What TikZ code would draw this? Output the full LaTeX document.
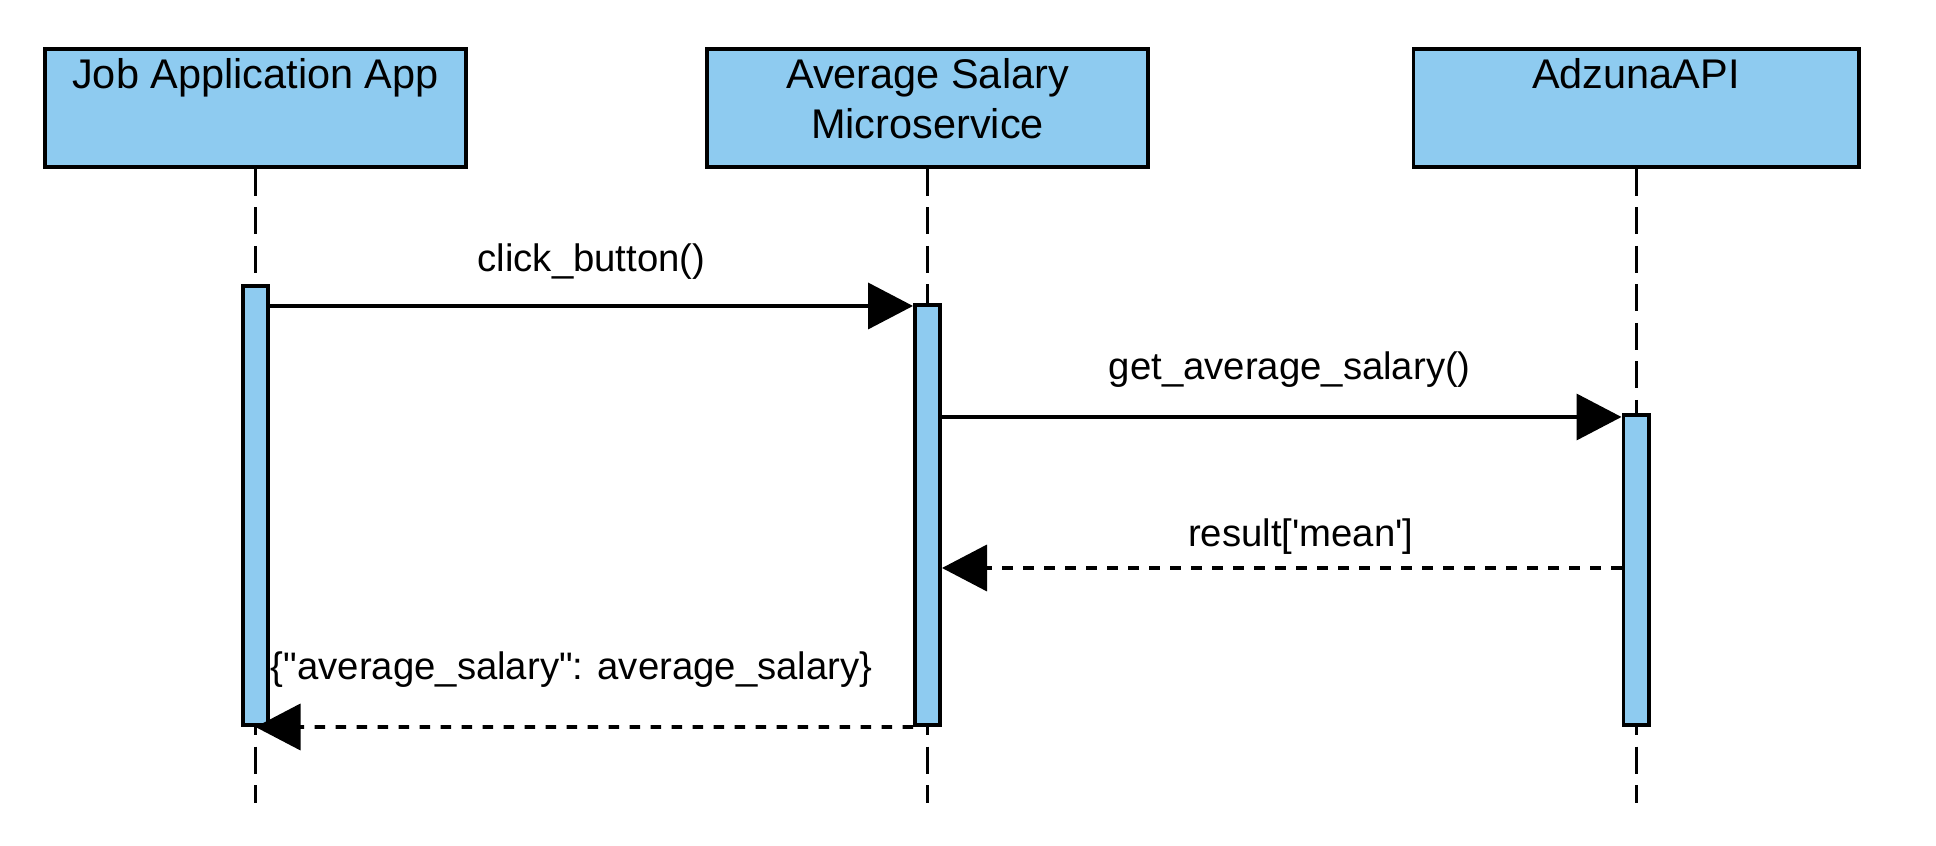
\documentclass[tikz,border=0pt]{standalone}
\usepackage{fontspec}
\newfontfamily\diagfont{Liberation Sans}
\usetikzlibrary{arrows.meta,positioning}
\definecolor{barblue}{RGB}{142,203,240}

\begin{document}
\begin{tikzpicture}[line width=0.036cm, font=\diagfont,
		actor/.style={draw, fill=barblue, minimum height=1.184cm, inner sep=0pt},
		bar/.style={draw, fill=barblue, minimum width=0.254cm, inner sep=0pt},
		title/.style={inner sep=0pt, align=center, font=\diagfont\fontsize{11.8}{14.2}\selectfont},
		msg/.style={anchor=base, inner sep=0pt, font=\diagfont\fontsize{10.9}{13}\selectfont},
		life/.style={line width=0.03cm, dash pattern=on 0.27cm off 0.115cm},
		call/.style={line width=0.038cm, -{Triangle[length=0.45cm, width=0.46cm]}},
		reply/.style={call, dash pattern=on 0.105cm off 0.105cm}]
		\useasboundingbox (0, 0) rectangle (19.36, 8.46);
		
		% Участники
		\node[actor, minimum width=4.204cm] (app) at (2.555, 7.38) {};
		\node[actor, minimum width=4.414cm] (svc) at (9.275, 7.38) {};
		\node[actor, minimum width=4.454cm] (api) at (16.36, 7.38) {};
		
		\node[title, below=0.1cm of app.north] (appname) {Job Application App};
		\node[title, below=0.1cm of svc.north] (svcname) {Average Salary\\Microservice};
		\node[title, below=0.1cm of api.north] (apiname) {AdzunaAPI};
		
		% Линии жизни
		\coordinate (bottom) at (0, 0.43);
		\draw[life] (app.south) -- (app.south |- bottom);
		\draw[life] (svc.south) -- (svc.south |- bottom);
		\draw[life] (api.south) -- (api.south |- bottom);
		
		% Активации
		\node[bar, minimum height=4.394cm] (act1) at (2.555, 3.405) {};
		\node[bar, minimum height=4.204cm] (act2) at (9.275, 3.31) {};
		\node[bar, minimum height=3.104cm] (act3) at (16.36, 2.76) {};
		
		% Сообщения
		\coordinate (m1) at (0, 5.40);
		\coordinate (m2) at (0, 4.29);
		\coordinate (m3) at (0, 2.78);
		
		\draw[call] (act1.east |- m1) -- node[msg, yshift=0.34cm] (m1l) {click\_button()} (act2.west |- m1);
		\draw[call] (act2.east |- m2) -- node[msg, xshift=0.08cm, yshift=0.37cm] (m2l) {get\_average\_salary()} (act3.west |- m2);
		\draw[reply] (act3.west |- m3) -- node[msg, xshift=0.19cm, yshift=0.21cm] (m3l) {result['mean']} (act2.east |- m3);
		\draw[reply] (act2.south west) -- node[msg, anchor=base west, pos=1, xshift=0.135cm, yshift=0.47cm] (m4l) {\{"average\_salary": average\_salary\}} (act1.south);
\end{tikzpicture}
\end{document}
